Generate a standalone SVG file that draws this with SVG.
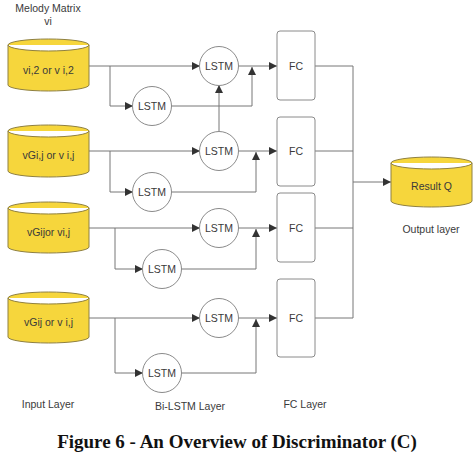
<svg xmlns="http://www.w3.org/2000/svg" width="474" height="455" viewBox="0 0 474 455">
<defs>
<style>
.t{font-family:"Liberation Sans",Arial,sans-serif;font-size:10.5px;fill:#3a3a3a;text-anchor:middle}
.cyl{fill:#f6d63c;stroke:#8f8040;stroke-width:1}
.c{fill:#fff;stroke:#8a8a8a;stroke-width:1}
.fc{fill:#fff;stroke:#8a8a8a;stroke-width:1}
.ln{fill:none;stroke:#777;stroke-width:1}
.ar{marker-end:url(#ah)}
.cap{font-family:"Liberation Serif","Times New Roman",serif;font-size:19px;font-weight:bold;fill:#111;text-anchor:middle}
</style>
<marker id="ah" markerUnits="userSpaceOnUse" markerWidth="9" markerHeight="8" refX="8" refY="4" orient="auto">
<path d="M0,0 L8,4 L0,8 Z" fill="#333"/>
</marker>
</defs>
<rect width="474" height="455" fill="#fff"/>
<text class="t" x="48" y="12">Melody Matrix</text>
<text class="t" x="48" y="25">vi</text>
<g id="connectors">
<path class="ln ar" d="M89,66 H200"/>
<path class="ln ar" d="M110,66 V106 H133"/>
<path class="ln ar" d="M239,66 H277"/>
<path class="ln ar" d="M171,106 H252 V67"/>
<path class="ln ar" d="M219,131 V85"/>
<path class="ln ar" d="M89,151 H200"/>
<path class="ln ar" d="M110,151 V192 H133"/>
<path class="ln ar" d="M238,151 H277"/>
<path class="ln ar" d="M171,192 H256 V152"/>
<path class="ln ar" d="M89,228 H200"/>
<path class="ln ar" d="M115,228 V269 H143"/>
<path class="ln ar" d="M238,228 H277"/>
<path class="ln ar" d="M181,269 H256 V229"/>
<path class="ln ar" d="M89,318 H200"/>
<path class="ln ar" d="M115,318 V373 H143"/>
<path class="ln ar" d="M238,318 H277"/>
<path class="ln ar" d="M181,373 H256 V319"/>
<path class="ln" d="M315,66 H353 M315,151 H353 M315,228 H353 M315,318 H353 M353,66 V318"/>
<path class="ln ar" d="M353,182 H391"/>
</g>
<g id="in1"><path class="cyl" d="M8,45 A40.5,6 0 0 1 89,45 V85 A40.5,6 0 0 1 8,85 Z M8,45 A40.5,6 0 0 0 89,45"/><text class="t" x="48.5" y="74">vi,2 or v i,2</text></g>
<g id="in2"><path class="cyl" d="M8,131 A40.5,6 0 0 1 89,131 V171 A40.5,6 0 0 1 8,171 Z M8,131 A40.5,6 0 0 0 89,131"/><text class="t" x="48.5" y="159">vGi,j or v i,j</text></g>
<g id="in3"><path class="cyl" d="M8,208 A40.5,6 0 0 1 89,208 V247 A40.5,6 0 0 1 8,247 Z M8,208 A40.5,6 0 0 0 89,208"/><text class="t" x="48.5" y="236">vGijor vi,j</text></g>
<g id="in4"><path class="cyl" d="M8,298 A40.5,6 0 0 1 89,298 V337 A40.5,6 0 0 1 8,337 Z M8,298 A40.5,6 0 0 0 89,298"/><text class="t" x="48.5" y="326">vGij or v i,j</text></g>
<g id="l1"><circle class="c" cx="219" cy="66" r="19.5"/><text class="t" x="219" y="70">LSTM</text></g>
<g id="l1b"><circle class="c" cx="152" cy="106" r="19.5"/><text class="t" x="152" y="110">LSTM</text></g>
<g id="l2"><circle class="c" cx="219" cy="151" r="19.5"/><text class="t" x="219" y="155">LSTM</text></g>
<g id="l2b"><circle class="c" cx="152" cy="192" r="19.5"/><text class="t" x="152" y="196">LSTM</text></g>
<g id="l3"><circle class="c" cx="219" cy="228" r="19.5"/><text class="t" x="219" y="232">LSTM</text></g>
<g id="l3b"><circle class="c" cx="162" cy="269" r="19.5"/><text class="t" x="162" y="273">LSTM</text></g>
<g id="l4"><circle class="c" cx="219" cy="318" r="19.5"/><text class="t" x="219" y="322">LSTM</text></g>
<g id="l4b"><circle class="c" cx="162" cy="373" r="19.5"/><text class="t" x="162" y="377">LSTM</text></g>
<g id="fc1"><rect class="fc" x="277" y="31" width="38" height="69" rx="3"/><text class="t" x="296" y="70">FC</text></g>
<g id="fc2"><rect class="fc" x="277" y="117" width="38" height="69" rx="3"/><text class="t" x="296" y="155">FC</text></g>
<g id="fc3"><rect class="fc" x="277" y="193" width="38" height="69" rx="3"/><text class="t" x="296" y="232">FC</text></g>
<g id="fc4"><rect class="fc" x="277" y="279" width="38" height="78" rx="3"/><text class="t" x="296" y="322">FC</text></g>
<g id="out"><path class="cyl" d="M391,163 A40.5,6 0 0 1 472,163 V201 A40.5,6 0 0 1 391,201 Z M391,163 A40.5,6 0 0 0 472,163"/><text class="t" x="431.5" y="190">Result Q</text></g>
<text class="t" x="431" y="233">Output layer</text>
<text class="t" x="48" y="408">Input Layer</text>
<text class="t" x="190" y="410">Bi-LSTM Layer</text>
<text class="t" x="305" y="408">FC Layer</text>
<text class="cap" x="237" y="448">Figure 6 - An Overview of Discriminator (C)</text>
</svg>
